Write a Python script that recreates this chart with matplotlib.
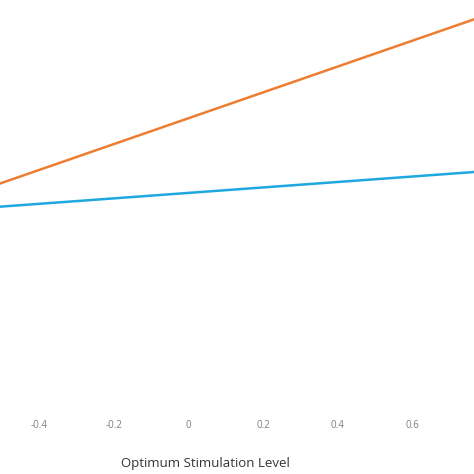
import matplotlib
matplotlib.use("Agg")
import matplotlib.pyplot as plt

# Data
x_vals = [-0.6, 0.8]
series_names = ["Series A", "Series B"]
orange_vals = [3.089, 4.855]
blue_vals = [2.958, 3.331]
x_ticks = [-0.4, -0.2, 0, 0.2, 0.4, 0.6]
x_tick_labels = ["-0.4", "-0.2", "0", "0.2", "0.4", "0.6"]
x_label = "Optimum Stimulation Level"

plt.rcParams['font.family'] = ['Open Sans', 'DejaVu Sans']

fig = plt.figure(figsize=(4.74, 4.74), dpi=100)
ax = fig.add_axes([0, 64/474, 1, 410/474])
ax.plot(x_vals, orange_vals, color='#ED7D31', lw=1.8, solid_capstyle='butt')
ax.plot(x_vals, blue_vals, color='#1FA8E0', lw=1.8, solid_capstyle='butt')
ax.set_xlim(-0.5044, 0.7653)
ax.set_ylim(1, 5)
for s in ax.spines.values():
    s.set_visible(False)
ax.set_yticks([])
ax.set_xticks(x_ticks)
ax.set_xticklabels(x_tick_labels)
ax.tick_params(axis='x', length=0, pad=7, labelsize=7, labelcolor='#7f7f7f')
ax.set_xlabel(x_label, fontsize=9.5, color='#333333')
ax.xaxis.set_label_coords(205/474, -47/410)
fig.savefig("out.png", dpi=100)
